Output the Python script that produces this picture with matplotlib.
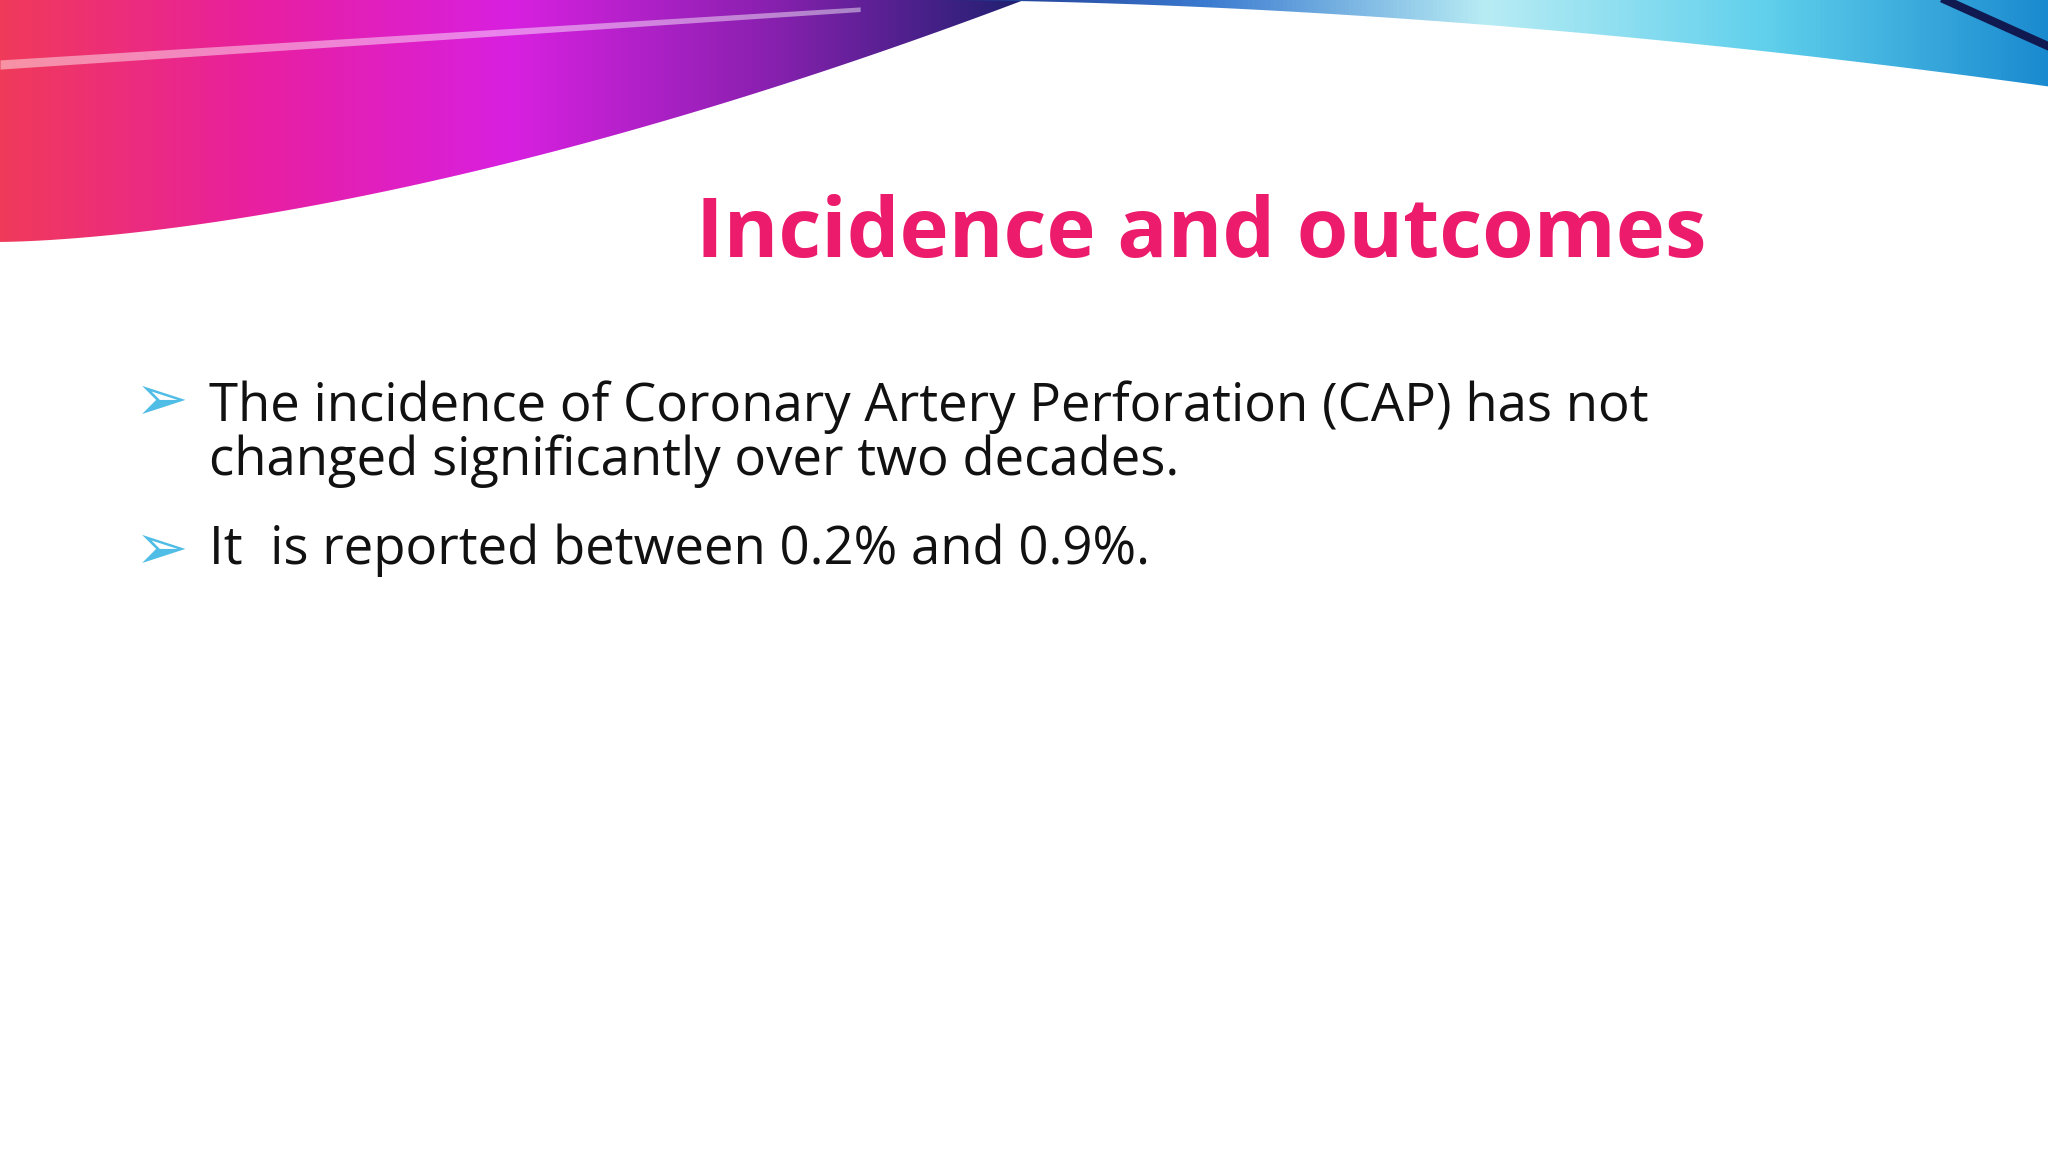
import numpy as np
import matplotlib.pyplot as plt
from matplotlib.patches import Polygon
from matplotlib.colors import LinearSegmentedColormap

title = "Incidence and outcomes"
bullets = [
    "The incidence of Coronary Artery Perforation (CAP) has not\nchanged significantly over two decades.",
    "It  is reported between 0.2% and 0.9%.",
]
bullet_y = [0.623, 0.522]

fig = plt.figure(figsize=(20.48, 11.52), dpi=100)
ax = fig.add_axes([0, 0, 1, 1])
ax.set_xlim(0, 1); ax.set_ylim(0, 1); ax.axis('off')

# left swoosh
x = np.linspace(0, 0.5, 200)
low = 0.79 + 0.21 * (x / 0.5) ** 1.6
poly = Polygon(np.vstack([np.c_[x, low], [[0.5, 1], [0, 1]]]), closed=True, fc='none', ec='none')
ax.add_patch(poly)
cm1 = LinearSegmentedColormap.from_list('p', ['#f03a5a', '#e81fa0', '#d820e0', '#8a20b0', '#202070'])
g = np.linspace(0, 1, 256)[None, :]
im = ax.imshow(g, extent=[0, 0.5, 0.79, 1], cmap=cm1, aspect='auto', zorder=1)
im.set_clip_path(poly)
xs = np.linspace(0, 0.42, 100)
ax.fill_between(xs, 0.94 + 0.05 * (xs / 0.42), 0.948 + 0.046 * (xs / 0.42), color='white', alpha=0.45, lw=0, zorder=2)

# right swoosh
xr = np.linspace(0.45, 1, 200)
lowr = 1 - 0.075 * ((xr - 0.45) / 0.55) ** 1.8
poly2 = Polygon(np.vstack([np.c_[xr, lowr], [[1, 1], [0.45, 1]]]), closed=True, fc='none', ec='none')
ax.add_patch(poly2)
cm2 = LinearSegmentedColormap.from_list('c', ['#1a2a80', '#3a7ad0', '#b8ecf4', '#60d0ec', '#1a8ad0'])
im2 = ax.imshow(g, extent=[0.45, 1, 0.92, 1], cmap=cm2, aspect='auto', zorder=1)
im2.set_clip_path(poly2)
ax.plot([0.95, 1], [1, 0.96], color='#101a50', lw=6, zorder=3)

ax.text(0.34, 0.796, title, fontsize=60, fontweight='bold', color='#ec1b6c',
        family=['Open Sans', 'DejaVu Sans'], va='center', ha='left', zorder=5)

for t, y in zip(bullets, bullet_y):
    ay = y + (0.028 if '\n' in t else 0)
    ax.text(0.066, ay, '➢', fontsize=46, color='#4fbde6', va='center', ha='left',
            family=['DejaVu Sans'])
    ax.text(0.102, y, t, fontsize=38, color='#111111', va='center', ha='left',
            family=['Open Sans', 'DejaVu Sans'], linespacing=1.0)

fig.savefig('out.png', dpi=100)
